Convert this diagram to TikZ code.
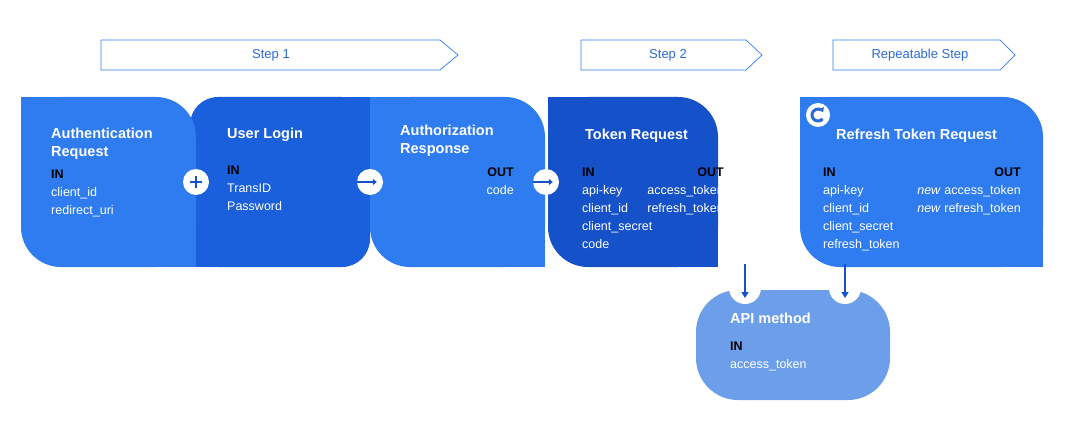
\documentclass[tikz,border=0pt]{standalone}
\usepackage{fontspec}
\setmainfont{Liberation Sans}
\usetikzlibrary{arrows.meta,positioning}
\definecolor{lightblue}{HTML}{2F7CF0}
\definecolor{midblue}{HTML}{1A5FDB}
\definecolor{darkblue}{HTML}{1551C9}
\definecolor{paleblue}{HTML}{6C9EEA}
\definecolor{steptext}{HTML}{2A6BD6}
% blob: colour, x1, y1, x2, y2, radius, then which corners stay sharp
\newcommand{\blob}[6]{%
  \fill[#1, rounded corners=#6] (#2,#3) rectangle (#4,#5);}
\newcommand{\sharpTL}[4]{\fill[#1] (#2,#3) rectangle ++(#4,#4);}
\newcommand{\sharpTR}[4]{\fill[#1] (#2,#3) rectangle ++(-#4,#4);}
\newcommand{\sharpBR}[4]{\fill[#1] (#2,#3) rectangle ++(-#4,-#4);}
\newcommand{\sharpBL}[4]{\fill[#1] (#2,#3) rectangle ++(#4,-#4);}
\begin{document}
\begin{tikzpicture}[
  x=1pt, y=-1pt,
  stepbox/.style={draw=lightblue, line width=0.7pt},
  steplabel/.style={text=steptext, font=\fontsize{13}{15}\selectfont},
  title/.style={text=white, font=\bfseries\fontsize{14.5}{18}\selectfont, align=left, anchor=north west, inner sep=0pt},
  body/.style={text=white, font=\fontsize{12.5}{18}\selectfont, align=left, inner sep=0pt},
  plug/.style={circle, fill=white, minimum size=26pt, inner sep=0pt},
  down/.style={-{Triangle[length=6pt,width=7pt]}, darkblue, line width=2.2pt},
]
\useasboundingbox (0,0) rectangle (1067,438);

% step banners
\draw[stepbox] (101,40) -- (440,40) -- (458,55) -- (440,70) -- (101,70) -- cycle;
\node[steplabel] (step1) at (271,55) {Step 1};
\draw[stepbox] (581,40) -- (746,40) -- (762,55) -- (746,70) -- (581,70) -- cycle;
\node[steplabel] (step2) at (668,55) {Step 2};
\draw[stepbox] (833,40) -- (1000,40) -- (1015,55) -- (1000,70) -- (833,70) -- cycle;
\node[steplabel] (step3) at (920,55) {Repeatable Step};

% boxes
\blob{midblue}{190}{97}{370}{267}{28}
\sharpTR{midblue}{370}{97}{30}
\sharpBL{midblue}{190}{267}{30}
\blob{lightblue}{21}{97}{196}{267}{40}
\sharpTL{lightblue}{21}{97}{42}
\sharpBR{lightblue}{196}{267}{42}
\blob{lightblue}{370}{97}{545}{267}{40}
\sharpTL{lightblue}{370}{97}{42}
\sharpBR{lightblue}{545}{267}{42}
\blob{darkblue}{548}{97}{718}{267}{40}
\sharpTL{darkblue}{548}{97}{42}
\sharpBR{darkblue}{718}{267}{42}
\blob{lightblue}{800}{97}{1043}{267}{40}
\sharpTL{lightblue}{800}{97}{42}
\sharpBR{lightblue}{1043}{267}{42}
\blob{paleblue}{696}{290}{890}{400}{42}
\fill[white] (745,288) circle (16);
\fill[white] (845,288) circle (16);

% texts
\node[title] (auth) at (51,128) {Authentication\\Request};
\node[body, anchor=north west] (authin) at (51,170) {\textcolor{black}{\bfseries IN}\\client\_id\\redirect\_uri};
\node[title] (login) at (227,128) {User Login};
\node[body, anchor=north west] (loginin) at (227,166) {\textcolor{black}{\bfseries IN}\\TransID\\Password};
\node[title] (authz) at (400,125) {Authorization\\Response};
\node[body, anchor=north east, align=right] (authzout) at (514,168) {\textcolor{black}{\bfseries OUT}\\code};
\node[title] (token) at (585,129) {Token Request};
\node[body, anchor=north west] (tokenin) at (582,168) {\textcolor{black}{\bfseries IN}\\api-key\\client\_id\\client\_secret\\code};
\node[body, anchor=north east, align=right] (tokenout) at (724,168) {\textcolor{black}{\bfseries OUT}\\access\_token\\refresh\_token};
\node[title] (refresh) at (836,129) {Refresh Token Request};
\node[body, anchor=north west] (refreshin) at (823,168) {\textcolor{black}{\bfseries IN}\\api-key\\client\_id\\client\_secret\\refresh\_token};
\node[body, anchor=north east, align=right] (refreshout) at (1021,168) {\textcolor{black}{\bfseries OUT}\\\textit{new} access\_token\\\textit{new} refresh\_token};
\node[title] (api) at (730,313) {API method};
\node[body, anchor=north west] (apiin) at (730,342) {\textcolor{black}{\bfseries IN}\\access\_token};

% plugs between the boxes
\node[plug] (plus) at (196,182) {};
\draw[darkblue, line width=1.5pt] (plus.center) ++(-6,0) -- ++(12,0) (plus.center) ++(0,-6) -- ++(0,12);
\node[plug] (go1) at (370,182) {};
\draw[-{Triangle[length=4pt,width=6pt]}, darkblue, line width=1.8pt] (go1.west) -- ++(20,0);
\node[plug] (go2) at (546,182) {};
\draw[-{Triangle[length=4pt,width=6pt]}, darkblue, line width=1.8pt] (go2.west) -- ++(20,0);
\node[plug, minimum size=24pt] (again) at (818,115) {};
\draw[-{Triangle[length=4pt,width=6pt]}, steptext, line width=3pt] (again.center) ++(40:6) arc[start angle=40, end angle=330, radius=6];

% arrows down to the api
\coordinate (tokfoot) at (745,264);
\coordinate (reffoot) at (845,264);
\coordinate (apitop1) at (745,298);
\coordinate (apitop2) at (845,298);
\draw[down] (tokfoot) -- (apitop1);
\draw[down] (reffoot) -- (apitop2);
\end{tikzpicture}
\end{document}
